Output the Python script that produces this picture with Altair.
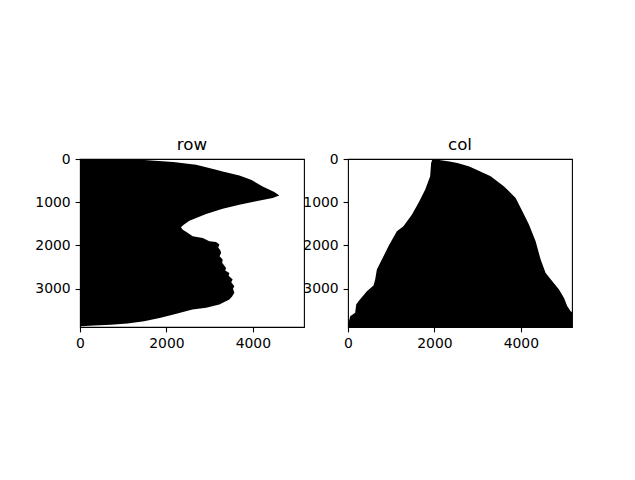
import altair as alt
import pandas as pd

# row profile: for each image row, extent of the black region
row_y = [0, 69, 132, 247, 287, 379, 479, 634, 763, 842, 902, 980, 1056, 1149, 1272, 1427, 1520, 1577, 1640, 1700,
         1790, 1827, 1905, 1919, 1981, 2050, 2120, 2173, 2250, 2328, 2400, 2520, 2580, 2636, 2700, 2790, 2850, 2946,
         3000, 3098, 3180, 3253, 3369, 3445, 3484, 3577, 3676, 3755, 3808, 3838, 3854, 3870, 3888]
row_v = [1150, 2157, 2687, 3150, 3302, 3688, 3958, 4227, 4497, 4613, 4458, 4074, 3688, 3302, 2918, 2532, 2400, 2335,
         2380, 2480, 2608, 2839, 2994, 3149, 3225, 3200, 3250, 3265, 3230, 3302, 3290, 3380, 3360, 3457, 3440, 3533,
         3500, 3572, 3540, 3572, 3520, 3457, 3225, 2918, 2601, 2254, 1868, 1484, 1098, 712, 328, 18, 0]

# col profile: for each image column, top row of the black region
col_x = [0, 12, 51, 166, 190, 243, 437, 590, 629, 668, 784, 936, 1131, 1283, 1477, 1630, 1785, 1901, 1924, 1955,
         2347, 2532, 2809, 3302, 3612, 3880, 4035, 4190, 4342, 4458, 4574, 4728, 4883, 4999, 5075, 5152, 5184]
col_top = [3830, 3792, 3639, 3561, 3369, 3292, 3061, 2929, 2790, 2559, 2328, 2021, 1674, 1558, 1288, 1017, 710, 402,
           92, 0, 55, 92, 171, 402, 634, 902, 1212, 1519, 1905, 2328, 2636, 2830, 3022, 3214, 3408, 3524, 3540]

IMG_W = 5184
IMG_H = 3888

x_ticks = [0, 2000, 4000]
y_ticks = [0, 1000, 2000, 3000]

row_df = pd.DataFrame({"r": row_y, "v": row_v})
col_df = pd.DataFrame({"c": col_x, "t": col_top})

xs = alt.Scale(domain=[0, IMG_W], nice=False, zero=False)
ys = alt.Scale(domain=[0, IMG_H], nice=False, zero=False, reverse=True)
xa = alt.Axis(values=x_ticks, title=None, format="d")
ya = alt.Axis(values=y_ticks, title=None, format="d")

W, H = 224, 168

def ttl(s):
    return alt.TitleParams(s, fontSize=16.7, fontWeight="normal", font="DejaVu Sans", color="black", offset=-2)

row_chart = alt.Chart(row_df, title=ttl("row")).mark_area(
    orient="horizontal", color="black", clip=True
).encode(
    y=alt.Y("r:Q", scale=ys, axis=ya),
    x=alt.X("v:Q", scale=xs, axis=xa),
    x2=alt.datum(0),
).properties(width=W, height=H)

col_chart = alt.Chart(col_df, title=ttl("col")).mark_area(
    color="black", clip=True
).encode(
    x=alt.X("c:Q", scale=xs, axis=xa),
    y=alt.Y("t:Q", scale=ys, axis=ya),
    y2=alt.datum(IMG_H),
).properties(width=W, height=H)

chart = alt.hconcat(row_chart, col_chart, spacing=-3).properties(
    padding={"left": 26, "top": 128, "right": 5, "bottom": 5}
).configure(background="white").configure_axis(
    labelFont="DejaVu Sans", labelFontSize=13.9, labelColor="black",
    tickColor="black", tickSize=4.9, tickWidth=1.1, labelPadding=4.9,
    domain=False, grid=False, labelFlush=False, labelOverlap=False,
).configure_view(
    stroke="black", strokeWidth=1.1
)

chart.save("out.html", embed_options={"renderer": "svg", "actions": False})
